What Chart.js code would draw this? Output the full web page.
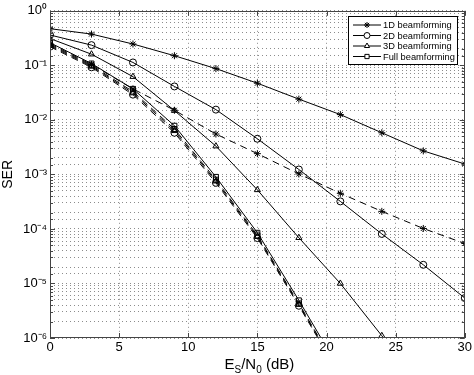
<!DOCTYPE html>
<html>
<head>
<meta charset="utf-8">
<script src="https://cdn.jsdelivr.net/npm/chart.js@4.4.0/dist/chart.umd.min.js"></script>
<style>
  html, body { margin: 0; padding: 0; background: #fff; }
  #wrap { width: 474px; height: 375px; position: relative; }
</style>
</head>
<body>
<div id="wrap"><canvas id="c" width="474" height="375"></canvas></div>
<script>
// ---- data ----
const snr = [0, 3, 6, 9, 12, 15, 18, 21, 24, 27, 30];
const ser1D   = [0.47, 0.374, 0.246, 0.15, 0.087, 0.047, 0.024, 0.0125, 0.0058, 0.0027, 0.00155];
const ser2D   = [0.36, 0.235, 0.113, 0.041, 0.0154, 0.0045, 0.00123, 3.2e-4, 8.1e-5, 2.2e-5, 5.4e-6];
const ser3D   = [0.31, 0.16, 0.062, 0.0148, 0.0033, 5.2e-4, 6.9e-5, 1.0e-5, 1.1e-6, 1.0e-7, null];
const serFull = [0.26, 0.108, 0.037, 0.0078, 9.0e-4, 8.5e-5, 4.9e-6, 2.5e-7, null, null, null];
const ser1Dd   = [0.25, 0.104, 0.037, 0.015, 0.0055, 0.0024, 0.00102, 4.5e-4, 2.1e-4, 1.02e-4, 5.4e-5];
const ser2Dd   = [0.22, 0.092, 0.029, 0.0058, 7.0e-4, 6.8e-5, 3.9e-6, 2.0e-7, null, null, null];
const ser3Dd   = [0.23, 0.096, 0.031, 0.0063, 7.5e-4, 7.2e-5, 4.1e-6, 2.1e-7, null, null, null];
const serFulld = [0.24, 0.100, 0.033, 0.0068, 8.0e-4, 7.6e-5, 4.3e-6, 2.2e-7, null, null, null];
const seriesLabels = ['1D beamforming', '2D beamforming', '3D beamforming', 'Full beamforming'];
const xTicks = [0, 5, 10, 15, 20, 25, 30];
const yTickExponents = [0, -1, -2, -3, -4, -5, -6];

const supMap = {'0':'⁰','1':'¹','2':'²','3':'³','4':'⁴','5':'⁵','6':'⁶','7':'⁷','8':'⁸','9':'⁹','-':'⁻'};
function toSup(n) { return String(n).split('').map(ch => supMap[ch] || ch).join(''); }

function pts(arr) { return snr.map((x, i) => ({x: x, y: arr[i]})).filter(p => p.y !== null); }

function ds(label, arr, style, dashed, inLegend) {
  return {
    label: label,
    data: pts(arr),
    borderColor: '#000',
    borderWidth: 1,
    borderDash: dashed ? [7, 5] : [],
    pointStyle: style,
    pointRadius: 3.5,
    pointBorderWidth: 1,
    pointBorderColor: '#000',
    pointBackgroundColor: 'rgba(0,0,0,0)',
    fill: false,
    tension: 0,
    inLegend: inLegend
  };
}

const datasets = [
  ds(seriesLabels[0], ser1D, 'star', false, true),
  ds(seriesLabels[1], ser2D, 'circle', false, true),
  ds(seriesLabels[2], ser3D, 'triangle', false, true),
  ds(seriesLabels[3], serFull, 'rect', false, true),
  ds(seriesLabels[0] + ' (dashed)', ser1Dd, 'star', true, false),
  ds(seriesLabels[1] + ' (dashed)', ser2Dd, 'circle', true, false),
  ds(seriesLabels[2] + ' (dashed)', ser3Dd, 'triangle', true, false),
  ds(seriesLabels[3] + ' (dashed)', serFulld, 'rect', true, false)
];

const FONT = '"Liberation Sans", Arial, Helvetica, sans-serif';

// box, inner tick marks, legend and x-axis title
const decorPlugin = {
  id: 'decor',
  afterDraw(chart) {
    const ctx = chart.ctx;
    const a = chart.chartArea;
    const xs = chart.scales.x, ys = chart.scales.y;
    ctx.save();
    // inner tick marks
    ctx.strokeStyle = '#444';
    ctx.lineWidth = 1;
    ctx.beginPath();
    ys.ticks.forEach(t => {
      const e = Math.log10(t.value);
      const major = Math.abs(e - Math.round(e)) < 1e-9;
      const len = major ? 5 : 3;
      const y = Math.round(ys.getPixelForValue(t.value)) + 0.5;
      ctx.moveTo(a.left, y); ctx.lineTo(a.left + len, y);
      ctx.moveTo(a.right, y); ctx.lineTo(a.right - len, y);
    });
    xTicks.forEach(v => {
      const x = Math.round(xs.getPixelForValue(v)) + 0.5;
      ctx.moveTo(x, a.bottom); ctx.lineTo(x, a.bottom - 5);
      ctx.moveTo(x, a.top); ctx.lineTo(x, a.top + 5);
    });
    ctx.stroke();
    // axes box
    ctx.strokeStyle = '#444';
    ctx.strokeRect(Math.round(a.left) + 0.5, Math.round(a.top) + 0.5,
                   Math.round(a.right - a.left) - 1, Math.round(a.bottom - a.top) - 1);

    // legend
    const lx = 348, ly = 16, lw = 109, lh = 48;
    ctx.fillStyle = '#fff';
    ctx.fillRect(lx, ly, lw, lh);
    ctx.strokeStyle = '#000';
    ctx.lineWidth = 1;
    ctx.strokeRect(lx + 0.5, ly + 0.5, lw, lh);
    ctx.font = '9.3px ' + FONT;
    ctx.textBaseline = 'middle';
    ctx.textAlign = 'left';
    let row = 0;
    chart.data.datasets.forEach(d => {
      if (!d.inLegend) return;
      const y = ly + 9 + row * 10.5;
      ctx.strokeStyle = '#000';
      ctx.setLineDash([]);
      ctx.beginPath();
      ctx.moveTo(lx + 5, y); ctx.lineTo(lx + 33, y);
      ctx.stroke();
      ctx.fillStyle = '#fff';
      Chart.helpers.drawPoint(ctx, {pointStyle: d.pointStyle, radius: 3, borderWidth: 1, rotation: 0}, lx + 19, y);
      ctx.fillStyle = '#000';
      ctx.fillText(d.label, lx + 35, y + 0.5);
      row++;
    });

    // x-axis title  E_S/N_0 (dB)
    const big = '15px ' + FONT, small = '10px ' + FONT;
    const parts = [['E', big, 0], ['S', small, 4], ['/N', big, 0], ['0', small, 4], [' (dB)', big, 0]];
    let total = 0;
    parts.forEach(p => { ctx.font = p[1]; total += ctx.measureText(p[0]).width; });
    let x = (a.left + a.right) / 2 - total / 2 + 2;
    const base = 369;
    ctx.textBaseline = 'alphabetic';
    ctx.fillStyle = '#000';
    parts.forEach(p => { ctx.font = p[1]; ctx.fillText(p[0], x, base + p[2]); x += ctx.measureText(p[0]).width; });
    ctx.restore();
  }
};

new Chart(document.getElementById('c'), {
  type: 'line',
  data: { datasets: datasets },
  options: {
    responsive: false,
    animation: false,
    events: [],
    layout: { padding: { top: 10, right: 8, left: 0, bottom: 0 } },
    plugins: { legend: { display: false }, tooltip: { enabled: false } },
    scales: {
      x: {
        type: 'linear',
        min: 0, max: 30,
        afterBuildTicks: (s) => { s.ticks = xTicks.map(v => ({value: v})); },
        afterFit: (s) => { s.height = 37; },
        ticks: { font: { family: FONT, size: 13 }, color: '#000', padding: 2, maxRotation: 0, autoSkip: false },
        grid: { color: '#8c8c8c', lineWidth: 1, drawTicks: false },
        border: { display: false, dash: [1, 3] },
        title: { display: false }
      },
      y: {
        type: 'logarithmic',
        min: 1e-6, max: 1,
        afterFit: (s) => { s.width = 50; },
        ticks: {
          autoSkip: false,
          font: { family: FONT, size: 13 }, color: '#000', padding: 3,
          callback: (v) => {
            const e = Math.log10(v);
            if (Math.abs(e - Math.round(e)) < 1e-9 && yTickExponents.includes(Math.round(e))) return '10' + toSup(Math.round(e));
            return '';
          }
        },
        grid: { color: '#8c8c8c', lineWidth: 1, drawTicks: false },
        border: { display: false, dash: [1, 3] },
        title: { display: true, text: 'SER', font: { family: FONT, size: 14 }, color: '#000', padding: { top: 0, bottom: 0 } }
      }
    }
  },
  plugins: [decorPlugin]
});
</script>
</body>
</html>
